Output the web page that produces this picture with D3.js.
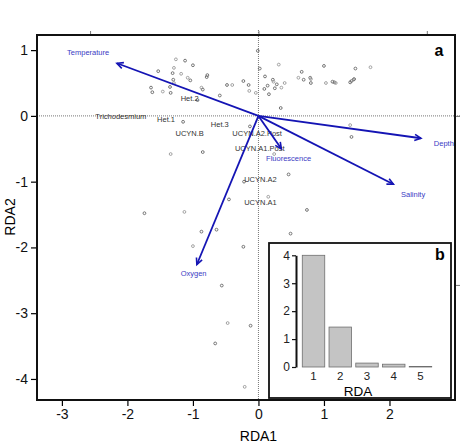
<!DOCTYPE html>
<html>
<head>
<meta charset="utf-8">
<script src="https://cdn.jsdelivr.net/npm/d3@7"></script>
<style>
  body { margin: 0; background: #fff; }
  svg { font-family: "Liberation Sans", Arial, sans-serif; }
</style>
</head>
<body>
<main></main>
<script>
// site scores (RDA1, RDA2)
var siteX = [-1.26,-1.12,-1.00,-1.29,-1.53,-1.31,-1.18,-0.78,-0.79,-1.08,-1.04,-1.30,-1.29,-1.64,-1.62,-1.46,-1.35,-1.34,-0.87,-0.85,
  -0.48,-0.40,-0.23,-0.15,-0.14,-0.59,-0.93,-0.04,-0.01,0.02,0.31,0.10,0.22,0.23,0.14,0.28,0.40,0.09,0.25,0.35,
  0.16,0.66,0.61,0.69,0.79,0.80,0.80,1.00,1.03,1.13,1.16,1.18,1.40,1.42,1.45,1.46,1.48,1.71,0.34,
  -1.15,-1.34,-0.85,-0.13,0.24,0.46,-0.22,0.15,-0.45,-1.74,-1.13,-0.87,-0.64,-1.00,-0.23,-0.56,-0.47,-0.12,-0.66,-0.21,
  0.74,0.49,1.40,1.42];
var siteY = [0.86,0.84,0.77,0.73,0.68,0.65,0.64,0.62,0.59,0.58,0.54,0.55,0.50,0.43,0.36,0.37,0.44,0.35,0.43,0.40,
  0.47,0.47,0.53,0.47,0.38,0.31,0.24,0.35,0.99,0.72,0.78,0.60,0.55,0.52,0.46,0.48,0.50,0.41,0.42,0.43,
  0.33,0.67,0.58,0.55,0.58,0.56,0.50,0.76,0.50,0.52,0.51,0.50,0.51,0.53,0.55,0.56,0.72,0.74,0.12,
  -0.09,-0.58,-0.55,-0.16,-0.58,-0.89,-1.00,-1.23,-1.27,-1.48,-1.46,-1.76,-1.73,-1.98,-1.99,-2.58,-3.15,-3.19,-3.46,-4.12,
  -1.43,-1.79,-0.14,-0.32];

// species labels
var species = ["Trichodesmium","Het.1","Het.2","Het.3","UCYN.B","UCYN.A2.Post","UCYN.A1.Post","UCYN.A2","UCYN.A1"];
var speciesX = [-2.10,-1.41,-1.05,-0.59,-1.05,-0.02,0.02,0.03,0.03];
var speciesY = [0.00,-0.05,0.27,-0.13,-0.27,-0.26,-0.50,-0.97,-1.32];

// environmental vectors
var envNames = ["Temperature","Depth","Salinity","Fluorescence","Oxygen"];
var envX = [-2.16,2.48,2.06,0.35,-0.94];
var envY = [0.80,-0.34,-1.04,-0.50,-2.26];
var envLabelX = [-2.60,2.83,2.36,0.46,-0.99];
var envLabelY = [0.97,-0.42,-1.20,-0.64,-2.39];

var xTicks = [-3,-2,-1,0,1,2];
var yTicks = [-4,-3,-2,-1,0,1];

// inset: eigenvalues
var rdaAxes = ["1","2","3","4","5"];
var eigen = [4.0,1.43,0.14,0.10,0.02];
var eigenTicks = [0,1,2,3,4];

var svg = d3.select("main").append("svg")
  .attr("width", 474)
  .attr("height", 447);

var x = d3.scaleLinear().domain([-3.38, 3.0]).range([37, 455]);
var y = d3.scaleLinear().domain([-4.32, 1.23]).range([400, 35]);
var k = 2.57;
var x2 = d3.scaleLinear().domain([-3.38 / k, 3.0 / k]).range([37, 455]);
var y2 = d3.scaleLinear().domain([-4.32 / k, 1.23 / k]).range([400, 35]);

// zero lines
svg.append("line")
  .attr("x1", 37).attr("x2", 460)
  .attr("y1", y(0)).attr("y2", y(0))
  .attr("stroke", "#777").attr("stroke-dasharray", "1,1");
svg.append("line")
  .attr("x1", x(0)).attr("x2", x(0))
  .attr("y1", 30).attr("y2", 400)
  .attr("stroke", "#777").attr("stroke-dasharray", "1,1");

// axes
var gx = svg.append("g").attr("transform", "translate(0,400)")
  .call(d3.axisBottom(x).tickValues(xTicks).tickSize(6).tickSizeOuter(0).tickFormat(d3.format("d")));
var gy = svg.append("g").attr("transform", "translate(37,0)")
  .call(d3.axisLeft(y).tickValues(yTicks).tickSize(6).tickSizeOuter(0).tickFormat(d3.format("d")));
[gx, gy].forEach(function(g) {
  g.select(".domain").remove();
  g.selectAll("line").attr("stroke", "#000").attr("stroke-width", 1.2);
  g.selectAll("text").attr("font-size", 14).attr("fill", "#111")
    .attr("font-family", "Liberation Sans, Arial, sans-serif")
    .text(function(d) { return d < 0 ? "-" + Math.abs(d) : d; });
});

// secondary ticks (species scale)
var gt = svg.append("g").attr("transform", "translate(0,35)")
  .call(d3.axisTop(x2).tickValues([-1,0,1]).tickSize(4).tickFormat(""));
var gr = svg.append("g").attr("transform", "translate(455,0)")
  .call(d3.axisRight(y2).tickValues([-1,0]).tickSize(5).tickFormat(""));
[gt, gr].forEach(function(g) {
  g.select(".domain").remove();
  g.selectAll("line").attr("stroke", "#777");
});

// sites
svg.append("g").selectAll("circle")
  .data(siteX)
  .enter().append("circle")
    .attr("cx", function(d) { return x(d); })
    .attr("cy", function(d, i) { return y(siteY[i]); })
    .attr("r", 1.4)
    .attr("fill", "none")
    .attr("stroke", function(d, i) { return i % 3 === 0 ? "#999" : "#666"; })
    .attr("stroke-width", 0.9);

// species text
svg.append("g").selectAll("text")
  .data(species)
  .enter().append("text")
    .attr("x", function(d, i) { return x(speciesX[i]); })
    .attr("y", function(d, i) { return y(speciesY[i]); })
    .attr("dy", "0.35em")
    .attr("text-anchor", "middle")
    .attr("font-size", 7.5)
    .attr("fill", "#333")
    .text(function(d) { return d; });

// arrows
var blue = "#1414b4";
envNames.forEach(function(name, i) {
  var x0 = x(0), y0 = y(0), x1 = x(envX[i]), y1 = y(envY[i]);
  var a = Math.atan2(y1 - y0, x1 - x0);
  var h = 7, w = 0.45;
  svg.append("line")
    .attr("x1", x0).attr("y1", y0).attr("x2", x1).attr("y2", y1)
    .attr("stroke", blue).attr("stroke-width", 1.8);
  svg.append("path")
    .attr("d", "M" + (x1 - h * Math.cos(a - w)) + "," + (y1 - h * Math.sin(a - w)) +
      "L" + x1 + "," + y1 +
      "L" + (x1 - h * Math.cos(a + w)) + "," + (y1 - h * Math.sin(a + w)))
    .attr("fill", "none").attr("stroke", blue).attr("stroke-width", 1.6);
  svg.append("text")
    .attr("x", x(envLabelX[i]))
    .attr("y", y(envLabelY[i]))
    .attr("dy", "0.35em")
    .attr("text-anchor", "middle")
    .attr("font-size", 7.5)
    .attr("fill", "#3b3bc4")
    .text(name);
});

// frame
svg.append("rect")
  .attr("x", 37).attr("y", 35).attr("width", 418).attr("height", 365)
  .attr("fill", "none").attr("stroke", "#111").attr("stroke-width", 2);

svg.append("text")
  .attr("x", 439).attr("y", 56)
  .attr("text-anchor", "middle").attr("font-size", 16).attr("font-weight", "bold")
  .text("a");

svg.append("text")
  .attr("x", x(0)).attr("y", 441)
  .attr("text-anchor", "middle").attr("font-size", 14)
  .text("RDA1");
svg.append("text")
  .attr("transform", "translate(15,217) rotate(-90)")
  .attr("text-anchor", "middle").attr("font-size", 14)
  .text("RDA2");

// inset b
var inset = svg.append("g");
inset.append("rect")
  .attr("x", 269).attr("y", 243).attr("width", 182).attr("height", 155)
  .attr("fill", "#fff").attr("stroke", "#111").attr("stroke-width", 1.8);

var bx = d3.scaleBand().domain(rdaAxes).range([298, 436]).paddingInner(0.16).paddingOuter(0.16);
var by = d3.scaleLinear().domain([0, 4]).range([367, 255.3]);

inset.selectAll(".bar")
  .data(eigen)
  .enter().append("rect")
    .attr("class", "bar")
    .attr("x", function(d, i) { return bx(rdaAxes[i]); })
    .attr("y", function(d) { return by(d); })
    .attr("width", bx.bandwidth())
    .attr("height", function(d) { return by(0) - by(d); })
    .attr("fill", "#c4c4c4")
    .attr("stroke", "#6e6e6e")
    .attr("stroke-width", 0.8);

var gby = inset.append("g").attr("transform", "translate(296,0)")
  .call(d3.axisLeft(by).tickValues(eigenTicks).tickSize(4).tickSizeOuter(0).tickPadding(2).tickFormat(d3.format("d")));
gby.select(".domain").attr("stroke", "#111").attr("stroke-width", 2);
gby.selectAll("line").attr("stroke", "#111").attr("stroke-width", 1.2);
gby.selectAll("text").attr("font-size", 12).attr("fill", "#222")
  .attr("font-family", "Liberation Sans, Arial, sans-serif");

var gbx = inset.append("g").attr("transform", "translate(0,367)")
  .call(d3.axisBottom(bx).tickSize(0).tickPadding(5));
gbx.select(".domain").remove();
gbx.selectAll("text").attr("font-size", 11.5).attr("fill", "#222")
  .attr("font-family", "Liberation Sans, Arial, sans-serif");

inset.append("text")
  .attr("x", 358).attr("y", 396)
  .attr("text-anchor", "middle").attr("font-size", 13.5)
  .text("RDA");
inset.append("text")
  .attr("x", 440).attr("y", 260)
  .attr("text-anchor", "middle").attr("font-size", 16).attr("font-weight", "bold")
  .text("b");
</script>
</body>
</html>
